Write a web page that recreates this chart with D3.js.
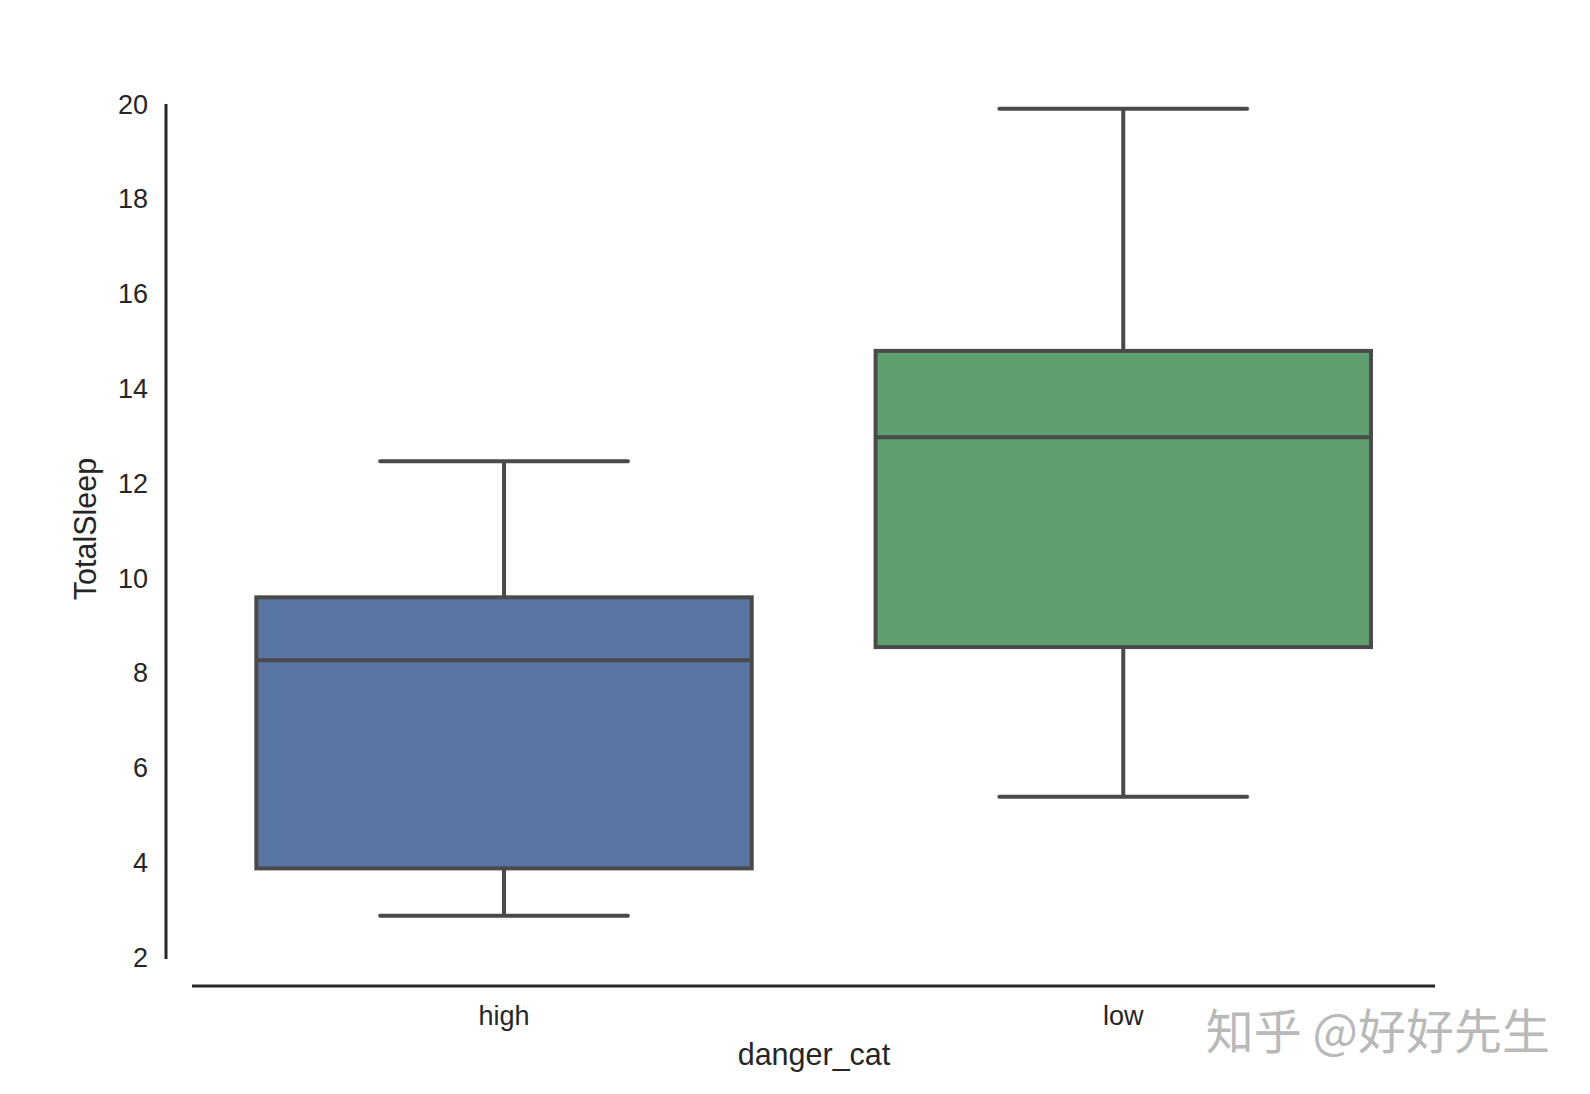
<!DOCTYPE html>
<html lang="en">
<head>
  <meta charset="UTF-8">
  <title>TotalSleep by danger_cat</title>
  <script src="https://d3js.org/d3.v7.min.js"></script>
  <style>
    body { margin: 0; background: #fff; font-family: "Liberation Sans", Arial, sans-serif; }
    .tick-label { font-size: 27px; fill: #262626; }
    .axis-title { font-size: 30.5px; fill: #262626; }
    .watermark { font-family: "Noto Sans CJK SC", sans-serif; font-size: 48px; fill: #b9b9b9; }
  </style>
</head>
<body>
  <svg width="1590" height="1094"></svg>

  <script>
    // data
    const categories = ['high', 'low'];
    const whiskerLow = [2.87, 5.38];
    const q1 = [3.87, 8.54];
    const median = [8.26, 12.97];
    const q3 = [9.59, 14.79];
    const whiskerHigh = [12.46, 19.9];
    const boxColors = ['#5975a4', '#5f9e6e'];
    const yTicks = [2, 4, 6, 8, 10, 12, 14, 16, 18, 20];

    const boxes = categories.map((c, i) => ({
      cat: c, lo: whiskerLow[i], q1: q1[i], med: median[i], q3: q3[i], hi: whiskerHigh[i], color: boxColors[i]
    }));

    const svg = d3.select('svg');
    const stroke = '#4a4a4a';
    const lw = 4;

    const x = d3.scaleBand().domain(categories).range([194.4, 1432.9]).padding(0);
    const y = d3.scaleLinear().domain([2, 20]).range([957, 104]);

    const boxW = x.bandwidth() * 0.8;

    // y axis spine (trimmed)
    svg.append('line')
      .attr('x1', 166).attr('x2', 166)
      .attr('y1', y(20)).attr('y2', y(2) + 2)
      .attr('stroke', '#262626').attr('stroke-width', 3);

    svg.selectAll('.tick-label.y')
      .data(yTicks)
      .enter().append('text')
      .attr('class', 'tick-label y')
      .attr('x', 148)
      .attr('y', d => y(d))
      .attr('dy', '0.36em')
      .attr('text-anchor', 'end')
      .text(d => d);

    // x axis spine
    svg.append('line')
      .attr('x1', 192).attr('x2', 1435)
      .attr('y1', 986).attr('y2', 986)
      .attr('stroke', '#262626').attr('stroke-width', 3);

    svg.selectAll('.tick-label.x')
      .data(categories)
      .enter().append('text')
      .attr('class', 'tick-label x')
      .attr('x', d => x(d) + x.bandwidth() / 2)
      .attr('y', 1025)
      .attr('text-anchor', 'middle')
      .text(d => d);

    svg.append('text')
      .attr('class', 'axis-title')
      .attr('x', 814).attr('y', 1065)
      .attr('text-anchor', 'middle')
      .text('danger_cat');

    svg.append('text')
      .attr('class', 'axis-title')
      .attr('transform', `translate(96,529) rotate(-90)`)
      .attr('text-anchor', 'middle')
      .text('TotalSleep');

    const g = svg.selectAll('.box')
      .data(boxes)
      .enter().append('g')
      .attr('class', 'box');

    const cx = d => x(d.cat) + x.bandwidth() / 2;

    // whiskers
    g.append('line')
      .attr('x1', cx).attr('x2', cx)
      .attr('y1', d => y(d.q3)).attr('y2', d => y(d.hi))
      .attr('stroke', stroke).attr('stroke-width', lw);
    g.append('line')
      .attr('x1', cx).attr('x2', cx)
      .attr('y1', d => y(d.q1)).attr('y2', d => y(d.lo))
      .attr('stroke', stroke).attr('stroke-width', lw);

    // caps
    g.append('line')
      .attr('x1', d => cx(d) - boxW / 4).attr('x2', d => cx(d) + boxW / 4)
      .attr('y1', d => y(d.hi)).attr('y2', d => y(d.hi))
      .attr('stroke', stroke).attr('stroke-width', lw).attr('stroke-linecap', 'round');
    g.append('line')
      .attr('x1', d => cx(d) - boxW / 4).attr('x2', d => cx(d) + boxW / 4)
      .attr('y1', d => y(d.lo)).attr('y2', d => y(d.lo))
      .attr('stroke', stroke).attr('stroke-width', lw).attr('stroke-linecap', 'round');

    // boxes
    g.append('rect')
      .attr('x', d => cx(d) - boxW / 2)
      .attr('width', boxW)
      .attr('y', d => y(d.q3))
      .attr('height', d => y(d.q1) - y(d.q3))
      .attr('fill', d => d.color)
      .attr('stroke', stroke).attr('stroke-width', lw);

    // medians
    g.append('line')
      .attr('x1', d => cx(d) - boxW / 2).attr('x2', d => cx(d) + boxW / 2)
      .attr('y1', d => y(d.med)).attr('y2', d => y(d.med))
      .attr('stroke', stroke).attr('stroke-width', lw);

    // watermark
    svg.append('text')
      .attr('class', 'watermark')
      .attr('x', 1550).attr('y', 1049)
      .attr('text-anchor', 'end')
      .text('知乎 @好好先生');
  </script>
</body>
</html>
